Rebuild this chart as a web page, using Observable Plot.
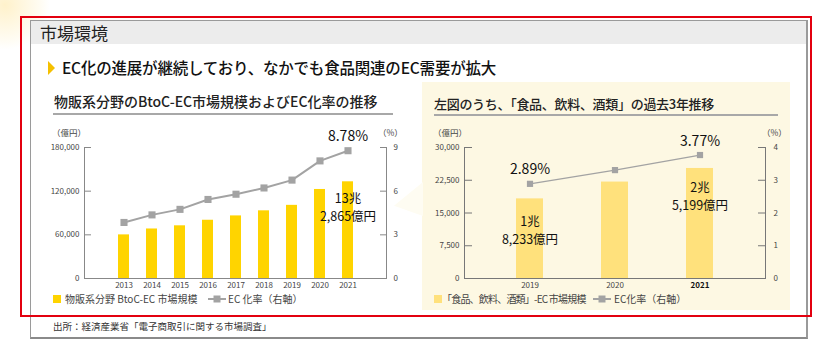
<!DOCTYPE html>
<html lang="ja">
<head>
<meta charset="utf-8">
<script src="https://cdn.jsdelivr.net/npm/d3@7"></script>
<script src="https://cdn.jsdelivr.net/npm/@observablehq/plot@0.6"></script>
<style>
  html, body { margin: 0; padding: 0; background: #fff; }
  body { width: 831px; height: 343px; position: relative; overflow: hidden;
         font-family: "Noto Sans CJK JP", "Noto Sans", sans-serif; color: #222; }
  .abs { position: absolute; white-space: nowrap; }
  .mid { transform: translateY(-50%); line-height: 1; }
  svg { background: transparent !important; overflow: visible; }
</style>
</head>
<body>
<!-- faint corner decoration -->
<div class="abs" style="left:-40px;top:-40px;width:90px;height:90px;border-radius:50%;background:radial-gradient(circle, rgba(255,225,140,0.45) 0%, rgba(255,235,170,0.15) 55%, rgba(255,255,255,0) 70%);"></div>

<!-- outer gray box -->
<div class="abs" style="left:30px;top:20px;width:775px;height:316px;border:1px solid #9a9a9a;border-right:2px solid #9a9a9a;border-bottom:2px solid #8a8a8a;"></div>
<div class="abs" style="left:31px;top:21px;width:775px;height:23px;background:#ececec;"></div>
<div class="abs mid" style="left:40px;top:32px;font-size:17px;color:#222;">市場環境</div>

<!-- subtitle -->
<div class="abs" style="left:48px;top:61px;width:7px;height:14px;background:#f5c000;clip-path:polygon(0 0,100% 50%,0 100%);"></div>
<div class="abs mid" style="left:62px;top:68px;font-size:15.5px;color:#111;font-weight:500;letter-spacing:-0.2px;">EC化の進展が継続しており、なかでも食品関連のEC需要が拡大</div>

<!-- right cream panel -->
<div class="abs" style="left:422px;top:82px;width:368px;height:228px;background:#fdf8e3;"></div>
<div class="abs" style="left:394px;top:182px;width:29px;height:34px;background:#fefcf2;clip-path:polygon(100% 0,0 70%,100% 100%);"></div>

<!-- left title -->
<div class="abs mid" style="left:54px;top:101px;font-size:14px;font-weight:500;color:#222;">物販系分野のBtoC-EC市場規模およびEC化率の推移</div>
<div class="abs" style="left:53px;top:113px;width:340px;height:2px;background:#a8a8a8;"></div>

<!-- right title -->
<div class="abs mid" style="left:434px;top:103px;font-size:13px;font-weight:500;color:#222;letter-spacing:-0.3px;">左図のうち、「食品、飲料、酒類」の過去3年推移</div>
<div class="abs" style="left:434px;top:114px;width:344px;height:2px;background:#a8a8a8;"></div>

<!-- unit labels -->
<div class="abs mid" style="left:52px;top:132px;font-size:8.5px;color:#444;">（億円）</div>
<div class="abs mid" style="left:378px;top:132px;font-size:8.5px;color:#444;">（%）</div>
<div class="abs mid" style="left:433px;top:132px;font-size:8.5px;color:#444;">（億円）</div>
<div class="abs mid" style="left:762px;top:132px;font-size:8.5px;color:#444;">（%）</div>

<div id="left" class="abs" style="left:40px;top:120px;"></div>
<div id="right" class="abs" style="left:422px;top:120px;"></div>

<!-- legends -->
<div class="abs" style="left:53px;top:295px;width:8px;height:8px;background:#ffd400;"></div>
<div class="abs mid" style="left:65px;top:299px;font-size:10px;color:#444;">物販系分野 BtoC-EC 市場規模</div>
<svg class="abs" style="left:208px;top:294px;" width="18" height="10"><line x1="0" y1="5" x2="18" y2="5" stroke="#a3a3a3" stroke-width="2"/><rect x="5.5" y="1.5" width="7" height="7" fill="#a3a3a3"/></svg>
<div class="abs mid" style="left:228px;top:299px;font-size:10px;color:#444;">EC 化率（右軸）</div>

<div class="abs" style="left:434px;top:295px;width:8px;height:8px;background:#ffe17c;"></div>
<div class="abs mid" style="left:442px;top:299px;font-size:10px;color:#444;letter-spacing:-0.8px;">「食品、飲料、酒類」-EC 市場規模</div>
<svg class="abs" style="left:593px;top:294px;" width="18" height="10"><line x1="0" y1="5" x2="18" y2="5" stroke="#a3a3a3" stroke-width="2"/><rect x="5.5" y="1.5" width="7" height="7" fill="#a3a3a3"/></svg>
<div class="abs mid" style="left:614px;top:299px;font-size:10px;color:#444;">EC化率（右軸）</div>

<!-- red highlight -->
<div class="abs" style="left:20px;top:16px;width:788px;height:297px;border:2px solid #e3000f;"></div>

<!-- caption -->
<div class="abs mid" style="left:53px;top:327px;font-size:9.5px;color:#333;">出所：経済産業省「電子商取引に関する市場調査」</div>

<script>
// ---- data ----
const years = [2013, 2014, 2015, 2016, 2017, 2018, 2019, 2020, 2021];
const marketSize = [59931, 68043, 72398, 80043, 86008, 92992, 100515, 122333, 132865]; // 億円
const ecRate = [3.85, 4.37, 4.75, 5.43, 5.79, 6.22, 6.76, 8.08, 8.78]; // %
const leftYTicks = [0, 60000, 120000, 180000];
const leftRateTicks = [0, 3, 6, 9];

const foodYears = [2019, 2020, 2021];
const foodSize = [18233, 22086, 25199]; // 億円
const foodRate = [2.89, 3.31, 3.77]; // %
const rightYTicks = [0, 7500, 15000, 22500, 30000];
const rightRateTicks = [0, 1, 2, 3, 4];

const fmtComma = d3.format(",");
const choLabel = v => `${Math.floor(v / 10000)}兆\n${fmtComma(v % 10000)}億円`;
const FONT = '"Noto Sans CJK JP", "Noto Sans", sans-serif';

// ---- left chart ----
const kL = leftYTicks[leftYTicks.length - 1] / leftRateTicks[leftRateTicks.length - 1];
const leftData = years.map((y, i) => ({year: String(y), size: marketSize[i], rate: ecRate[i]}));
const lastL = [leftData[leftData.length - 1]];

const left = Plot.plot({
  width: 370, height: 175,
  marginLeft: 44, marginRight: 24, marginTop: 27, marginBottom: 17,
  style: {background: "transparent", fontFamily: FONT, fontSize: "8px", color: "#444", overflow: "visible"},
  x: {type: "band", domain: years.map(String), paddingInner: 0.61, paddingOuter: 1.14, axis: null},
  y: {domain: [0, leftYTicks[leftYTicks.length - 1]], axis: null},
  marks: [
    Plot.barY(leftData, {x: "year", y: "size", fill: "#ffd400"}),
    Plot.frame({anchor: "left", stroke: "#888"}),
    Plot.frame({anchor: "right", stroke: "#888"}),
    Plot.ruleY([0], {stroke: "#888"}),
    Plot.axisX({tickSize: 0, tickPadding: 4, fill: "#444", label: null}),
    Plot.axisY(leftYTicks, {tickSize: 0, tickPadding: 5, tickFormat: fmtComma, fill: "#444", label: null}),
    Plot.axisY(leftYTicks, {tickSize: 7, dx: 7, fill: "none", stroke: "#888", label: null}),
    Plot.axisY(leftRateTicks.map(t => t * kL), {anchor: "right", tickSize: 0, tickPadding: 7, tickFormat: d => d / kL, fill: "#444", label: null}),
    Plot.axisY(leftRateTicks.map(t => t * kL), {anchor: "right", tickSize: 7, dx: -7, fill: "none", stroke: "#888", label: null}),
    Plot.line(leftData, {x: "year", y: d => d.rate * kL, stroke: "#a3a3a3", strokeWidth: 2}),
    Plot.dot(leftData, {x: "year", y: d => d.rate * kL, symbol: "square", r: 4, fill: "#a3a3a3"}),
    Plot.text(lastL, {x: "year", y: d => d.rate * kL, text: d => d.rate.toFixed(2) + "%", dy: -14, fontSize: 14, fill: "#111"}),
    Plot.text(lastL, {x: "year", y: "size", text: d => choLabel(d.size), lineAnchor: "top", dy: 8, fontSize: 12.5, lineHeight: 1.45, fill: "#111"})
  ]
});
document.getElementById("left").append(left);

// ---- right chart ----
const kR = rightYTicks[rightYTicks.length - 1] / rightRateTicks[rightRateTicks.length - 1];
const foodData = foodYears.map((y, i) => ({year: String(y), size: foodSize[i], rate: foodRate[i]}));
const firstR = [foodData[0]];
const lastR = [foodData[foodData.length - 1]];

const right = Plot.plot({
  width: 368, height: 175,
  marginLeft: 42, marginRight: 25, marginTop: 27, marginBottom: 17,
  style: {background: "transparent", fontFamily: FONT, fontSize: "8px", color: "#444", overflow: "visible"},
  x: {type: "band", domain: foodYears.map(String), paddingInner: 0.68, paddingOuter: 0.61, axis: null},
  y: {domain: [0, rightYTicks[rightYTicks.length - 1]], axis: null},
  marks: [
    Plot.barY(foodData, {x: "year", y: "size", fill: "#ffe17c"}),
    Plot.frame({anchor: "left", stroke: "#777"}),
    Plot.frame({anchor: "right", stroke: "#777"}),
    Plot.ruleY([0], {stroke: "#777"}),
    Plot.axisX(foodYears.slice(0, -1).map(String), {tickSize: 0, tickPadding: 4, fill: "#444", label: null}),
    Plot.axisX(foodYears.slice(-1).map(String), {tickSize: 0, tickPadding: 4, fill: "#111", fontWeight: "bold", label: null}),
    Plot.axisY(rightYTicks, {tickSize: 0, tickPadding: 5, tickFormat: fmtComma, fill: "#444", label: null}),
    Plot.axisY(rightYTicks, {tickSize: 8, dx: 8, fill: "none", stroke: "#777", label: null}),
    Plot.axisY(rightRateTicks.map(t => t * kR), {anchor: "right", tickSize: 0, tickPadding: 8, tickFormat: d => d / kR, fill: "#444", label: null}),
    Plot.axisY(rightRateTicks.map(t => t * kR), {anchor: "right", tickSize: 8, dx: -8, fill: "none", stroke: "#777", label: null}),
    Plot.line(foodData, {x: "year", y: d => d.rate * kR, stroke: "#a3a3a3", strokeWidth: 1.3}),
    Plot.dot(foodData, {x: "year", y: d => d.rate * kR, symbol: "square", r: 3.5, fill: "#a3a3a3"}),
    Plot.text([...firstR, ...lastR], {x: "year", y: d => d.rate * kR, text: d => d.rate.toFixed(2) + "%", dy: -14, fontSize: 14, fill: "#111"}),
    Plot.text(firstR, {x: "year", y: "size", text: d => choLabel(d.size), lineAnchor: "top", dy: 14, fontSize: 12.5, lineHeight: 1.45, fill: "#111"}),
    Plot.text(lastR, {x: "year", y: "size", text: d => choLabel(d.size), lineAnchor: "top", dy: 11, fontSize: 12.5, lineHeight: 1.45, fill: "#111"})
  ]
});
document.getElementById("right").append(right);
</script>
</body>
</html>
